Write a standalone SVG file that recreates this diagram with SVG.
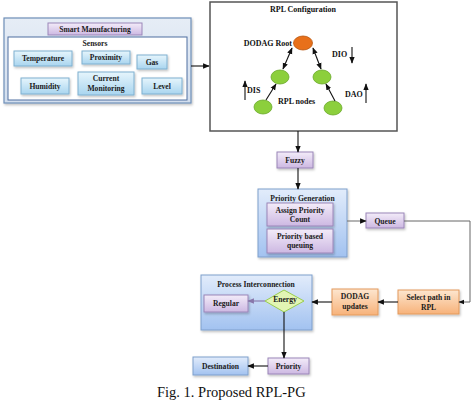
<svg xmlns="http://www.w3.org/2000/svg" width="474" height="401" viewBox="0 0 474 401">
<style>
.t{font-family:"Liberation Serif",serif;font-weight:bold;font-size:7.6px;fill:#1a1a1a;text-anchor:middle}
.tl{font-family:"Liberation Serif",serif;font-weight:bold;font-size:8px;fill:#111}
.cap{font-family:"Liberation Serif",serif;font-size:14.5px;fill:#111}
.pur{fill:url(#gPur);stroke:#9a86b8;stroke-width:1}
.sen{fill:url(#gSen);stroke:#7fb0d0;stroke-width:1}
.blu{fill:url(#gBlu);stroke:#7e9fcc;stroke-width:1}
.org{fill:url(#gOrg);stroke:#e39a5c;stroke-width:1}
.ln{stroke:#111;stroke-width:1.1;fill:none}
.gn{fill:#8ccf3c;stroke:#6aa82a;stroke-width:0.8}
</style>
<defs>
<linearGradient id="gPur" x1="0" y1="0" x2="0" y2="1"><stop offset="0" stop-color="#f3ecf9"/><stop offset="1" stop-color="#cdb8e2"/></linearGradient>
<linearGradient id="gSen" x1="0" y1="0" x2="0" y2="1"><stop offset="0" stop-color="#e6f5fc"/><stop offset="1" stop-color="#a9d5ef"/></linearGradient>
<linearGradient id="gBlu" x1="0" y1="0" x2="0" y2="1"><stop offset="0" stop-color="#e2ecfb"/><stop offset="1" stop-color="#a2c2f0"/></linearGradient>
<linearGradient id="gOrg" x1="0" y1="0" x2="0" y2="1"><stop offset="0" stop-color="#fde6cf"/><stop offset="1" stop-color="#f7b27a"/></linearGradient>
<linearGradient id="gSM" x1="0" y1="0" x2="0" y2="1"><stop offset="0" stop-color="#e6edf6"/><stop offset="1" stop-color="#d2deee"/></linearGradient>
<filter id="sh" x="-10%" y="-10%" width="130%" height="140%"><feDropShadow dx="1" dy="1.5" stdDeviation="1" flood-color="#000" flood-opacity="0.25"/></filter>
<marker id="ah" viewBox="0 0 10 10" refX="9" refY="5" markerWidth="6" markerHeight="6" orient="auto-start-reverse"><path d="M0,1 L10,5 L0,9 z" fill="#111"/></marker>
<marker id="ahp" viewBox="0 0 10 10" refX="9" refY="5" markerWidth="6" markerHeight="6" orient="auto"><path d="M0,1 L10,5 L0,9 z" fill="#8877aa"/></marker>
</defs>
<rect width="474" height="401" fill="#fff"/>

<g id="smart-manufacturing">
<rect x="4" y="18" width="187" height="85" fill="url(#gSM)" stroke="#6f8fb8" stroke-width="1.2" filter="url(#sh)"/>
<rect x="48" y="23" width="94" height="12" class="pur"/>
<text x="95" y="31.8" class="t" font-size="8.4">Smart Manufacturing</text>
<rect x="8" y="37" width="179" height="63" fill="#fff" stroke="#4f6fa0" stroke-width="1"/>
<text x="95" y="46" class="t" font-size="8">Sensors</text>
</g>
<g id="temperature"><rect x="14" y="51" width="58" height="15" class="sen" filter="url(#sh)"/><text x="43" y="61.2" class="t">Temperature</text></g>
<g id="proximity"><rect x="82" y="51" width="48" height="13" class="sen" filter="url(#sh)"/><text x="106" y="60.2" class="t">Proximity</text></g>
<g id="gas"><rect x="137" y="55" width="30" height="14" class="sen" filter="url(#sh)"/><text x="152" y="64.7" class="t">Gas</text></g>
<g id="humidity"><rect x="21" y="78" width="48" height="16" class="sen" filter="url(#sh)"/><text x="45" y="88.7" class="t">Humidity</text></g>
<g id="current-monitoring"><rect x="78" y="72" width="56" height="23" class="sen" filter="url(#sh)"/><text x="106" y="81.3" class="t">Current</text><text x="106" y="91.3" class="t">Monitoring</text></g>
<g id="level"><rect x="142" y="78" width="40" height="16" class="sen" filter="url(#sh)"/><text x="162" y="88.7" class="t">Level</text></g>

<g id="rpl-configuration">
<rect x="210" y="2" width="187" height="129" fill="#fff" stroke="#555" stroke-width="1.5"/>
<text x="303" y="12" class="tl" text-anchor="middle">RPL Configuration</text>
<text x="292" y="45.5" class="tl" text-anchor="end" font-size="8.5">DODAG Root</text>
<ellipse cx="303" cy="43" rx="9.5" ry="7" fill="#e8701a" stroke="#b8560f" stroke-width="0.8"/>
<ellipse cx="280" cy="77" rx="9" ry="7" class="gn"/>
<ellipse cx="322" cy="77" rx="9" ry="7" class="gn"/>
<ellipse cx="263" cy="107" rx="9" ry="7" class="gn"/>
<ellipse cx="333" cy="108" rx="9" ry="7" class="gn"/>
<path d="M292,48 L283,69" class="ln" stroke-width="0.9" marker-start="url(#ah)" marker-end="url(#ah)"/>
<path d="M313,48 L321,69" class="ln" stroke-width="0.9" marker-start="url(#ah)" marker-end="url(#ah)"/>
<path d="M266,100 L276,84" class="ln" stroke-width="0.9" marker-end="url(#ah)"/>
<path d="M335,101 L326,84" class="ln" stroke-width="0.9" marker-end="url(#ah)"/>
<text x="332" y="57" class="tl">DIO</text>
<path d="M352,47 L352,63" class="ln" marker-end="url(#ah)"/>
<text x="247" y="93" class="tl">DIS</text>
<path d="M245,100 L245,81" class="ln" marker-end="url(#ah)"/>
<text x="278" y="104" class="tl">RPL nodes</text>
<text x="345" y="97" class="tl">DAO</text>
<path d="M366,103 L366,84" class="ln" marker-end="url(#ah)"/>
</g>

<g id="fuzzy"><rect x="277" y="152" width="36" height="16" class="pur" filter="url(#sh)"/><text x="295" y="162.7" class="t">Fuzzy</text></g>

<g id="priority-generation">
<rect x="258" y="189" width="89" height="68" class="blu" filter="url(#sh)"/>
<text x="302.5" y="200.5" class="t" font-size="8.6">Priority Generation</text>
<rect x="267" y="203" width="66" height="23" class="pur" filter="url(#sh)"/>
<text x="300" y="212.5" class="t">Assign Priority</text><text x="300" y="222.3" class="t">Count</text>
<rect x="267" y="229" width="66" height="24" class="pur" filter="url(#sh)"/>
<text x="300" y="238.5" class="t">Priority based</text><text x="300" y="248.3" class="t">queuing</text>
</g>

<g id="queue"><rect x="366" y="213" width="38" height="15" class="pur" filter="url(#sh)"/><text x="385" y="223.5" class="t">Queue</text></g>

<g id="select-path"><rect x="398" y="290" width="61" height="24" class="org" filter="url(#sh)"/><text x="428.5" y="299.5" class="t">Select path in</text><text x="428.5" y="309.5" class="t">RPL</text></g>

<g id="dodag-updates"><rect x="332" y="289" width="46" height="26" class="org" filter="url(#sh)"/><text x="355" y="299" class="t">DODAG</text><text x="355" y="309" class="t">updates</text></g>

<g id="process-interconnection">
<rect x="201" y="275" width="111" height="55" class="blu" filter="url(#sh)"/>
<text x="256" y="286.5" class="t" font-size="8.4">Process Interconnection</text>
</g>
<g id="regular"><rect x="204" y="295" width="44" height="17" class="pur" filter="url(#sh)"/><text x="226" y="306.2" class="t">Regular</text></g>
<g id="energy"><polygon points="265,301 284,290 304,301 284,312" fill="#e2f5b4" stroke="#9acd50" stroke-width="1"/><text x="285" y="302" class="t">Energy</text></g>

<g id="priority"><rect x="268" y="358" width="41" height="16" class="pur" filter="url(#sh)"/><text x="288.5" y="368.7" class="t">Priority</text></g>
<g id="destination"><rect x="193" y="357" width="55" height="18" class="blu" filter="url(#sh)"/><text x="220.5" y="368.7" class="t">Destination</text></g>

<g id="connectors">
<path d="M191,66 L209,66" class="ln" marker-end="url(#ah)"/>
<path d="M298,131 L298,152" class="ln" marker-end="url(#ah)"/>
<path d="M298,168 L298,189" class="ln" marker-end="url(#ah)"/>
<path d="M347,221 L366,221" stroke="#777" stroke-width="1.1" fill="none" marker-end="url(#ah)"/>
<path d="M404,221 H470 V302 H459" stroke="#666" stroke-width="1" fill="none" marker-end="url(#ah)"/>
<path d="M398,302 L378,302" class="ln" marker-end="url(#ah)"/>
<path d="M332,302 L312,302" class="ln" marker-end="url(#ah)"/>
<path d="M265,301 L248,301" stroke="#8877aa" stroke-width="1.1" fill="none" marker-end="url(#ahp)"/>
<path d="M284,312 L284,358" class="ln" marker-end="url(#ah)"/>
<path d="M268,366 L248,366" class="ln" marker-end="url(#ah)"/>
</g>

<text x="157" y="397" class="cap">Fig. 1. Proposed RPL-PG</text>
</svg>
